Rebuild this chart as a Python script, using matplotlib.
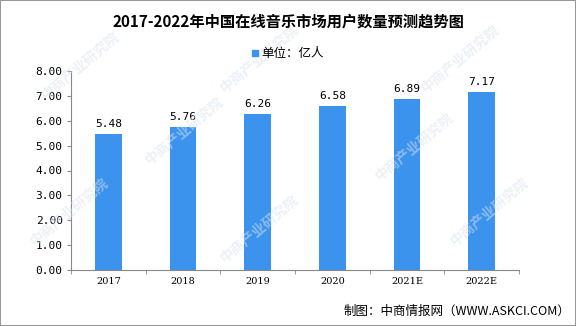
import matplotlib.pyplot as plt
from matplotlib.patches import Rectangle

plt.rcParams['font.family'] = ['Noto Sans CJK SC', 'DejaVu Sans']

years = ['2017', '2018', '2019', '2020', '2021E', '2022E']
users = [5.48, 5.76, 6.26, 6.58, 6.89, 7.17]
yticks = [0, 1, 2, 3, 4, 5, 6, 7, 8]

bar_color = '#3c93ee'


def main():
    fig = plt.figure(figsize=(5.76, 3.26), dpi=100)
    ax = fig.add_axes([71 / 576, 56 / 326, 448 / 576, 199 / 326])

    x = range(len(years))
    ax.bar(x, users, width=0.36, color=bar_color, zorder=2)
    for i, v in enumerate(users):
        ax.text(i, v + 0.2, f'{v:.2f}', ha='center', va='bottom',
                fontsize=8, family='DejaVu Sans Mono')

    ax.set_xlim(-0.5, len(years) - 0.5)
    ax.set_ylim(0, 8)
    ax.set_xticks(list(x))
    ax.set_xticklabels(years, fontsize=7, family='DejaVu Serif')
    ax.set_xticks([i - 0.5 for i in range(len(years) + 1)], minor=True)
    ax.set_yticks(yticks)
    ax.set_yticklabels([f'{t:.2f}' for t in yticks], fontsize=8,
                       family='DejaVu Sans Mono')
    ax.tick_params(axis='y', length=3, color='#888888', pad=3)
    ax.tick_params(axis='x', which='major', length=0, pad=5)
    ax.tick_params(axis='x', which='minor', length=3, color='#888888')
    for s in ['top', 'right']:
        ax.spines[s].set_visible(False)
    ax.spines['left'].set_color('#888888')
    ax.spines['bottom'].set_color('#888888')

    fig.text(0.5, 0.935, '2017-2022年中国在线音乐市场用户数量预测趋势图',
             ha='center', va='center', fontsize=11, fontweight='bold')
    fig.patches.append(Rectangle((252 / 576, 1 - 56 / 326), 6 / 576, 6 / 326,
                                 transform=fig.transFigure, color=bar_color))
    fig.text(261 / 576, 1 - 53 / 326, '单位：亿人', ha='left', va='center',
             fontsize=9)
    fig.text(0.99, 1 - 311 / 326, '制图：中商情报网（WWW.ASKCI.COM）',
             ha='right', va='center', fontsize=9)

    # faint watermarks
    for wx, wy in [(0.14, 0.8), (0.45, 0.82), (0.8, 0.82), (0.32, 0.6),
                   (0.72, 0.55), (0.12, 0.35), (0.45, 0.3), (0.85, 0.35)]:
        fig.text(wx, wy, '中商产业研究院', rotation=40, fontsize=10,
                 color='#d8e4f0', alpha=0.5, ha='center', va='center',
                 fontweight='bold', zorder=0)

    border = Rectangle((0, 0), 1, 1, transform=fig.transFigure,
                       fill=False, edgecolor='#999999', linewidth=1.5)
    fig.patches.append(border)

    fig.savefig('out.png', dpi=100)


if __name__ == "__main__":
    main()
